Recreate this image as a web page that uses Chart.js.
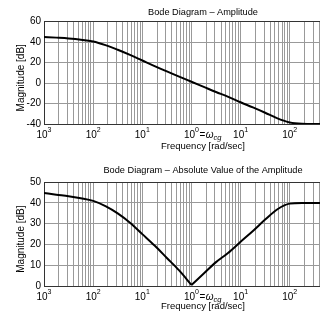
<!DOCTYPE html>
<html><head><meta charset="utf-8">
<script src="https://cdn.jsdelivr.net/npm/chart.js@4/dist/chart.umd.min.js"></script>
<style>
html,body{margin:0;padding:0;background:#fff;overflow:hidden;width:320px;height:320px;}
.wrap{position:absolute;left:0;width:364px;height:160px;}
#w1{top:0}#w2{top:160px}
canvas{display:block}
</style></head><body>
<div class="wrap" id="w1"><canvas id="c1" width="364" height="160"></canvas></div>
<div class="wrap" id="w2"><canvas id="c2" width="364" height="160"></canvas></div>
<script>
// ---- data ----
const frequencies = [0.001, 0.00178, 0.00316, 0.00562, 0.01, 0.0178, 0.0316, 0.0562, 0.1, 0.178, 0.316, 0.562, 1, 1.78, 3.16, 5.62, 10, 17.8, 31.6, 56.2, 100, 178, 316, 562, 1000];
const amplitudeDb = [45, 44.3, 43.5, 42.3, 40.5, 37, 32.5, 27.5, 22, 16.5, 11.3, 6.3, 1.2, -3.8, -8.8, -13.5, -18.8, -23.8, -29, -34.5, -38.5, -39.8, -40, -40, -40];
const absAmplitudeDb = [44.8, 44, 43.3, 42.3, 41, 38.5, 35, 30.5, 25, 19.5, 13.5, 7.5, 0.5, 6, 11.5, 16, 21.3, 26.5, 32, 37, 39.7, 40, 40, 40, 40];
const minIndex = 12; // the V minimum of the absolute-value plot (omega = omega_cg)
const xTickValues = [0.001, 0.01, 0.1, 1, 10, 100, 1000];
const xTickExponents = ['3', '2', '1', '0', '1', '2', '3'];
const xMinorMultipliers = [1, 2, 3, 4, 5, 6, 7, 8, 9];
const topYTicks = [-40, -20, 0, 20, 40, 60];
const bottomYTicks = [0, 10, 20, 30, 40, 50];
const topTitle = 'Bode Diagram \u2013 Amplitude';
const bottomTitle = 'Bode Diagram \u2013 Absolute Value of the Amplitude';
const xTitle = 'Frequency [rad/sec]';
const yTitle = 'Magnitude [dB]';

const FONT = '"Liberation Sans", Arial, sans-serif';
const X_MIN = 0.001, X_MAX = 2950;
const GRID = '#999', EDGE = '#333', TEXT = '#000';

const gridTicks = [];
xTickValues.forEach(d => xMinorMultipliers.forEach(m => { const v = d * m; if (v >= X_MIN && v <= X_MAX) gridTicks.push(v); }));

const labelPlugin = {
  id: 'customLabels',
  afterDraw(chart) {
    const ctx = chart.ctx, xs = chart.scales.x, area = chart.chartArea;
    const y0 = area.bottom + 11;
    const base = '10px ' + FONT, sup = '7px ' + FONT;
    ctx.save();
    ctx.fillStyle = TEXT;
    ctx.textAlign = 'left';
    ctx.textBaseline = 'middle';
    xTickValues.forEach((v, i) => {
      const px = xs.getPixelForValue(v);
      ctx.font = base; const w1 = ctx.measureText('10').width;
      ctx.font = sup; const w2 = ctx.measureText(xTickExponents[i]).width;
      const start = px - (w1 + w2) / 2;
      ctx.font = base; ctx.fillText('10', start, y0);
      ctx.font = sup; ctx.fillText(xTickExponents[i], start + w1, y0 - 4.5);
      if (v === 1) {
        let x = start + w1 + w2 + 0.5;
        ctx.font = base; ctx.fillText('=', x, y0); x += ctx.measureText('=').width + 0.5;
        ctx.font = 'italic 10px ' + FONT; ctx.fillText('\u03c9', x, y0); x += ctx.measureText('\u03c9').width;
        ctx.font = 'italic 7.5px ' + FONT; ctx.fillText('cg', x, y0 + 2.5);
      }
    });
    ctx.font = '10px ' + FONT;
    ctx.textAlign = 'center';
    ctx.translate(21, (area.top + area.bottom) / 2 + 5);
    ctx.rotate(-Math.PI / 2);
    ctx.fillText(yTitle, 0, 0);
    ctx.restore();
  }
};

function makeChart(id, datasets, yTicks, yStep, titleText, titlePad, xHeight) {
  const yMin = yTicks[0], yMax = yTicks[yTicks.length - 1];
  return new Chart(document.getElementById(id), {
    type: 'line',
    data: { datasets },
    options: {
      responsive: false, animation: false, devicePixelRatio: 1,
      layout: { padding: { left: 0, right: 2, top: 0, bottom: 0 } },
      plugins: {
        legend: { display: false }, tooltip: { enabled: false },
        title: { display: true, text: titleText, fullSize: false, color: TEXT,
          font: { family: FONT, size: 9.2, weight: 'normal', lineHeight: 1.2 }, padding: titlePad }
      },
      scales: {
        x: {
          type: 'logarithmic', min: X_MIN, max: X_MAX,
          afterBuildTicks: s => { s.ticks = gridTicks.map(v => ({ value: v })); },
          ticks: { display: false, autoSkip: false },
          grid: { color: GRID, drawTicks: false, lineWidth: 1 },
          border: { display: true, color: EDGE, width: 1 },
          title: { display: true, text: xTitle, color: TEXT, font: { family: FONT, size: 9.5, lineHeight: 1.2 }, padding: { top: 0, bottom: 8.3 } },
          afterFit: s => { s.height = xHeight; }
        },
        y: {
          min: yMin, max: yMax,
          ticks: { stepSize: yStep, color: TEXT, font: { family: FONT, size: 10 }, padding: 3 },
          grid: { color: c => (c.tick && (c.tick.value === yMax || c.tick.value === yMin)) ? EDGE : GRID, drawTicks: false, lineWidth: 1 },
          border: { display: true, color: EDGE, width: 1 },
          afterFit: s => { s.width = 44; }
        }
      }
    },
    plugins: [labelPlugin]
  });
}

const pts = (arr, a, b) => frequencies.slice(a, b).map((f, i) => ({ x: f, y: arr.slice(a, b)[i] }));
const lineStyle = { borderColor: '#000', borderWidth: 2, pointRadius: 0, fill: false, cubicInterpolationMode: 'monotone' };

makeChart('c1', [Object.assign({ data: pts(amplitudeDb, 0, frequencies.length) }, lineStyle)],
  topYTicks, 20, topTitle, { top: 6.6, bottom: 3.9 }, 36);

makeChart('c2', [
    Object.assign({ data: pts(absAmplitudeDb, 0, minIndex + 1) }, lineStyle),
    Object.assign({ data: pts(absAmplitudeDb, minIndex, frequencies.length) }, lineStyle)
  ],
  bottomYTicks, 10, bottomTitle, { top: 5.3, bottom: 5.9 }, 34);
</script>
</body></html>
